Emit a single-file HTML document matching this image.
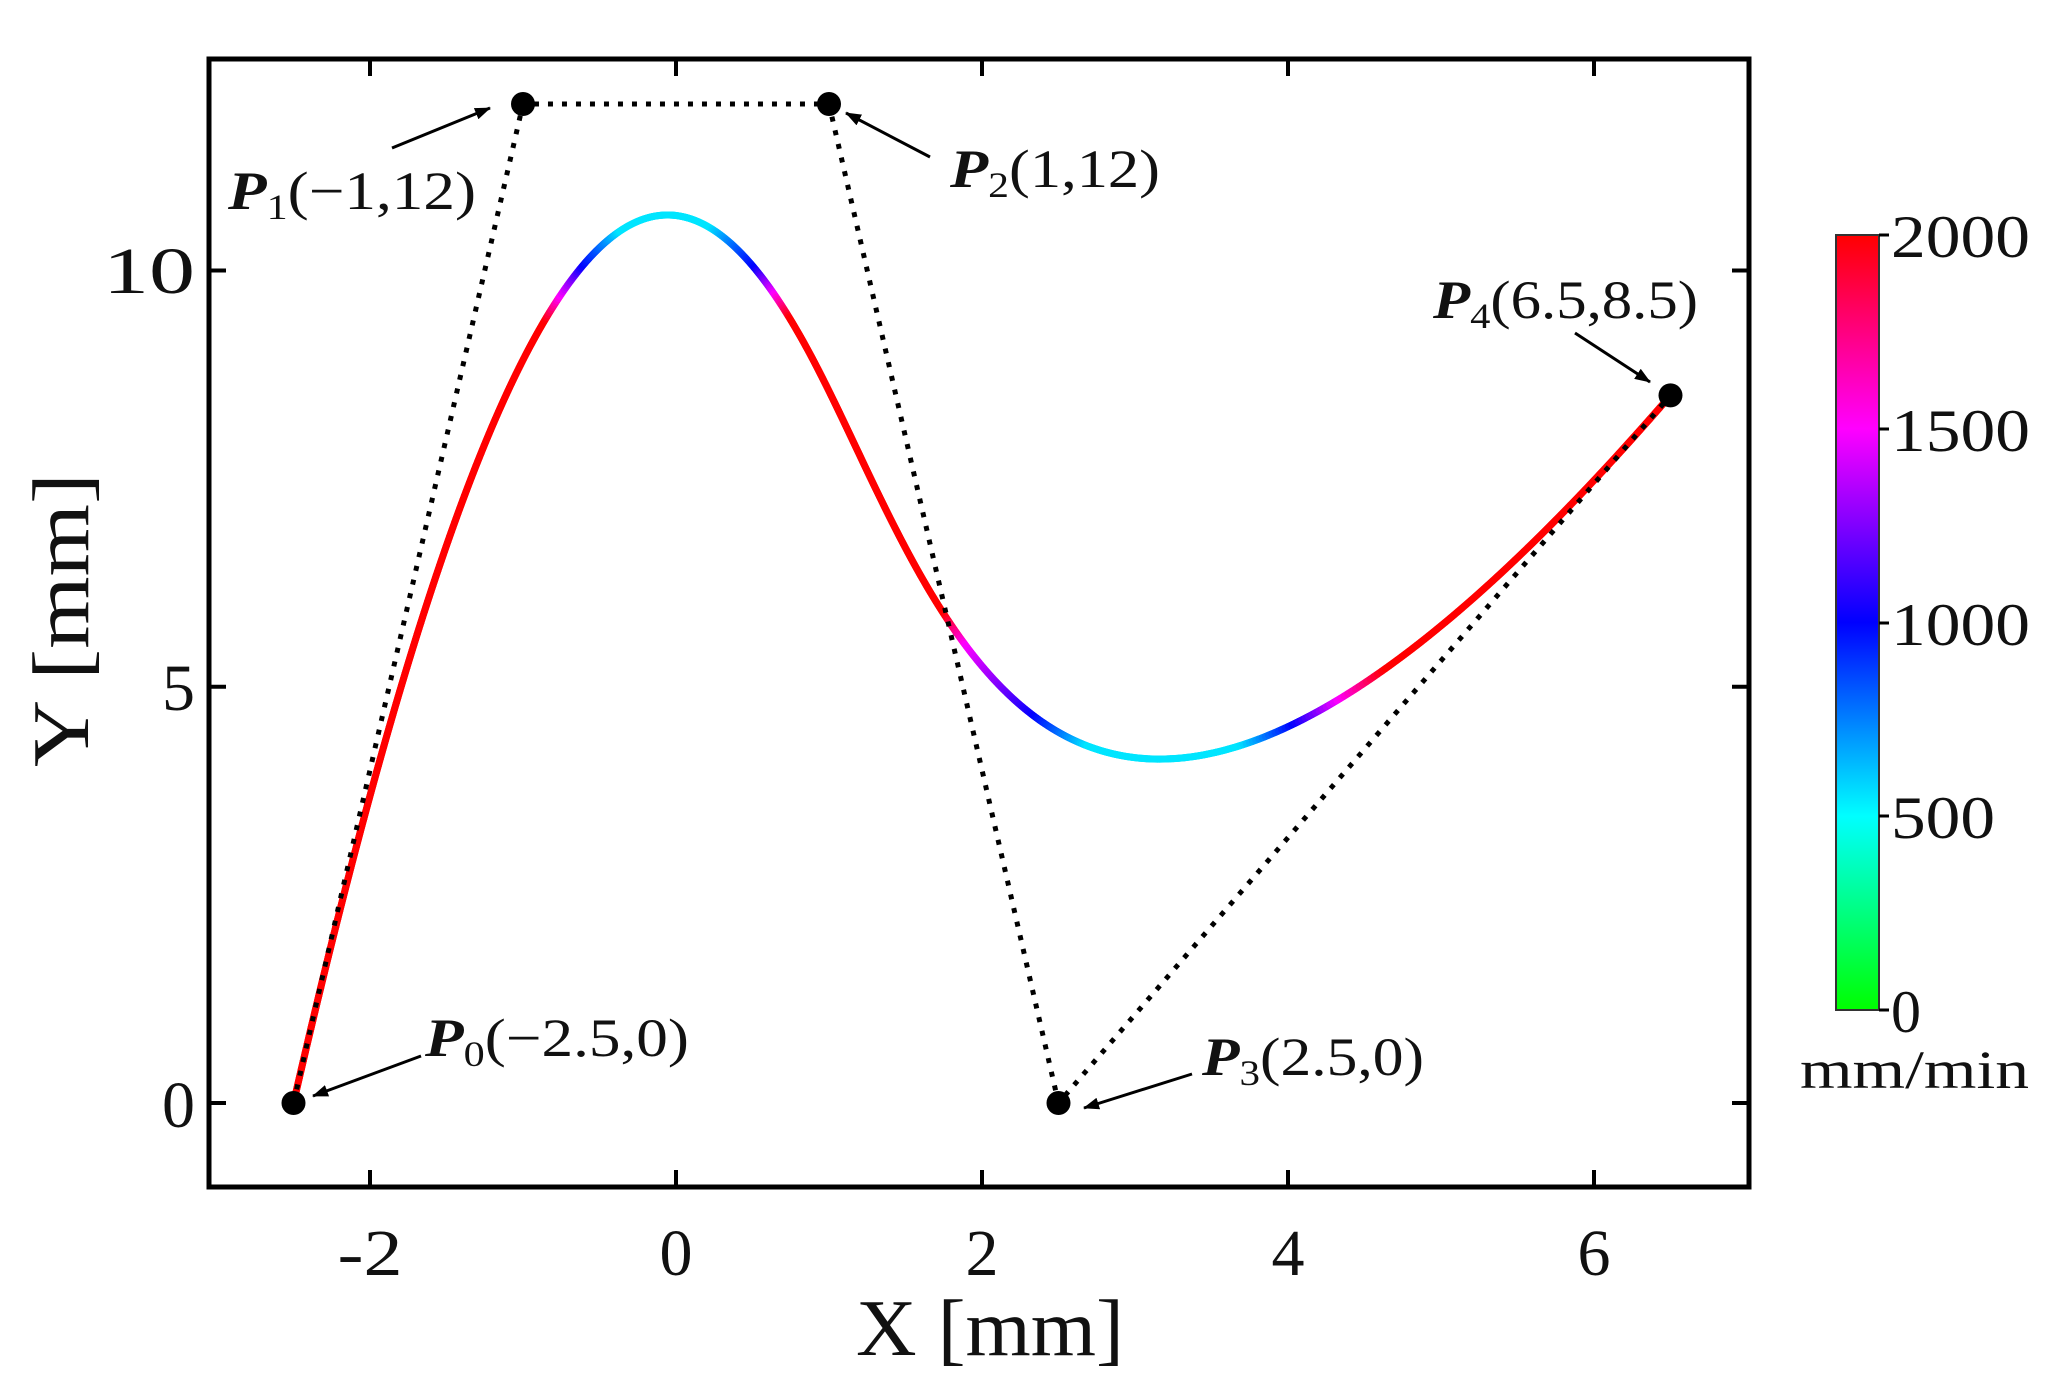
<!DOCTYPE html>
<html><head><meta charset="utf-8"><style>
html,body{margin:0;padding:0;background:#fff;}
svg{display:block;}
text{font-family:"Liberation Serif",serif;fill:#111;}
</style></head><body>
<svg id="s" width="2049" height="1378" viewBox="0 0 2049 1378" xmlns="http://www.w3.org/2000/svg">
<defs>
<linearGradient id="cb" x1="0" y1="1" x2="0" y2="0">
<stop offset="0" stop-color="#00ff00"/><stop offset="0.25" stop-color="#00ffff"/>
<stop offset="0.5" stop-color="#0000ff"/><stop offset="0.75" stop-color="#ff00ff"/>
<stop offset="1" stop-color="#ff0000"/></linearGradient>
<marker id="ar" markerWidth="16" markerHeight="12" refX="15" refY="6" orient="auto" markerUnits="userSpaceOnUse" viewBox="0 0 16 12"><path d="M0,0 L16,6 L0,12 z" fill="#000"/></marker>
</defs>
<g id="curve"></g>
<g id="ctrl"></g>
<rect x="209" y="59" width="1540" height="1128" fill="none" stroke="#000" stroke-width="5"/>
<g id="ticks" stroke="#000" stroke-width="4"></g>
<g font-size="66" text-anchor="middle">
<text x="370" y="1275" textLength="65" lengthAdjust="spacingAndGlyphs">-2</text><text x="676" y="1275">0</text><text x="982" y="1275">2</text><text x="1288" y="1275">4</text><text x="1594" y="1275">6</text>
</g>
<g font-size="66" text-anchor="end">
<text x="195" y="1127">0</text><text x="195" y="710">5</text><text x="195" y="293" textLength="92" lengthAdjust="spacingAndGlyphs">10</text>
</g>
<text x="856" y="1355" font-size="80" textLength="268" lengthAdjust="spacingAndGlyphs">X [mm]</text>
<text transform="translate(88,620) rotate(-90)" font-size="80" text-anchor="middle" textLength="294" lengthAdjust="spacingAndGlyphs">Y [mm]</text>
<rect x="1836" y="235" width="43" height="775" fill="url(#cb)" stroke="#333" stroke-width="2"/>
<g stroke="#000" stroke-width="3">
<line x1="1879" y1="235" x2="1889" y2="235"/><line x1="1879" y1="429" x2="1889" y2="429"/><line x1="1879" y1="623" x2="1889" y2="623"/><line x1="1879" y1="816" x2="1889" y2="816"/><line x1="1879" y1="1010" x2="1889" y2="1010"/></g>
<g font-size="60">
<text x="1891" y="257" textLength="139" lengthAdjust="spacingAndGlyphs">2000</text><text x="1891" y="451" textLength="139" lengthAdjust="spacingAndGlyphs">1500</text><text x="1891" y="645" textLength="139" lengthAdjust="spacingAndGlyphs">1000</text><text x="1891" y="838" textLength="104" lengthAdjust="spacingAndGlyphs">500</text><text x="1891" y="1032">0</text>
</g>
<text x="1800" y="1088" font-size="54" textLength="229" lengthAdjust="spacingAndGlyphs">mm/min</text>
<g font-size="54">
<text x="228" y="209" textLength="248" lengthAdjust="spacingAndGlyphs"><tspan font-weight="bold" font-style="italic">P</tspan><tspan font-size="36" dy="10">1</tspan><tspan dy="-10">(−1,12)</tspan></text>
<text x="950" y="187" textLength="210" lengthAdjust="spacingAndGlyphs"><tspan font-weight="bold" font-style="italic">P</tspan><tspan font-size="36" dy="10">2</tspan><tspan dy="-10">(1,12)</tspan></text>
<text x="1433" y="318" textLength="265" lengthAdjust="spacingAndGlyphs"><tspan font-weight="bold" font-style="italic">P</tspan><tspan font-size="36" dy="10">4</tspan><tspan dy="-10">(6.5,8.5)</tspan></text>
<text x="425" y="1056" textLength="264" lengthAdjust="spacingAndGlyphs"><tspan font-weight="bold" font-style="italic">P</tspan><tspan font-size="36" dy="10">0</tspan><tspan dy="-10">(−2.5,0)</tspan></text>
<text x="1202" y="1075" textLength="222" lengthAdjust="spacingAndGlyphs"><tspan font-weight="bold" font-style="italic">P</tspan><tspan font-size="36" dy="10">3</tspan><tspan dy="-10">(2.5,0)</tspan></text>
</g>
<g stroke="#000" stroke-width="3" marker-end="url(#ar)">
<line x1="392" y1="148" x2="490" y2="108"/>
<line x1="930" y1="157" x2="846" y2="113"/>
<line x1="1575" y1="333" x2="1650" y2="382"/>
<line x1="421" y1="1056" x2="313" y2="1096"/>
<line x1="1192" y1="1074" x2="1084" y2="1108"/>
</g>
</svg>
<script>
var X=function(v){return 676+153*v;},Y=function(v){return 1103-83.25*v;};
var P=[[-2.5,0],[-1,12],[1,12],[2.5,0],[6.5,8.5]];
var ns="http://www.w3.org/2000/svg";
function el(t,a,p){var e=document.createElementNS(ns,t);for(var k in a)e.setAttribute(k,a[k]);p.appendChild(e);return e;}
var ctrl=document.getElementById('ctrl');
var pts=P.map(function(p){return X(p[0])+','+Y(p[1]);}).join(' ');
el('polyline',{points:pts,fill:'none',stroke:'#000','stroke-width':5,'stroke-dasharray':'5 9'},ctrl);
P.forEach(function(p){el('circle',{cx:X(p[0]),cy:Y(p[1]),r:12,fill:'#000'},ctrl);});
var kn=[0,0,0,0,0.5,1,1,1,1];
function N(i,k,t){if(k==0){return (t>=kn[i]&&t<kn[i+1])?1:0;}
var a=0,b=0;if(kn[i+k]-kn[i]>0)a=(t-kn[i])/(kn[i+k]-kn[i])*N(i,k-1,t);
if(kn[i+k+1]-kn[i+1]>0)b=(kn[i+k+1]-t)/(kn[i+k+1]-kn[i+1])*N(i+1,k-1,t);return a+b;}
function B(t){var x=0,y=0;for(var i=0;i<5;i++){var n=N(i,3,t);x+=n*P[i][0];y+=n*P[i][1];}return[x,y];}
var M=700,S=[];for(var j=0;j<=M;j++)S.push(B(Math.min(j/M,0.99999)));
function col(v){v=Math.max(0,Math.min(2000,v))/500;var r,g,b;
if(v<1){r=0;g=255;b=255*v;}else if(v<2){r=0;g=255*(2-v);b=255;}else if(v<3){r=255*(v-2);g=0;b=255;}else{r=255;g=0;b=255*(4-v);}
return 'rgb('+Math.round(r)+','+Math.round(g)+','+Math.round(b)+')';}
var KF=[[-3,2000],[-0.85,2000],[-0.75,1500],[-0.6,1000],[-0.36,550],[0.23,550],[0.52,1000],[0.65,1500],[0.75,2000],
[1.76,2000],[1.9,1500],[2.35,1000],[2.7,550],[3.7,550],[4.05,1000],[4.35,1500],[4.65,2000],[7,2000]];
function sp(x){for(var i=1;i<KF.length;i++){if(x<=KF[i][0]){var a=KF[i-1],b=KF[i];return a[1]+(b[1]-a[1])*(x-a[0])/(b[0]-a[0]);}}return 2000;}
var cg=document.getElementById('curve');
for(var j=1;j<M;j++){
var a=S[j-1],c=S[j+1],b=S[j];
var v=sp(b[0]);
// peak region only applies when y high; trough region when y low
el('line',{x1:X(a[0]),y1:Y(a[1]),x2:X(c[0]),y2:Y(c[1]),stroke:col(v),'stroke-width':7,'stroke-linecap':'round'},cg);}
var tg=document.getElementById('ticks');
[-2,0,2,4,6].forEach(function(v){var x=X(v);el('line',{x1:x,y1:1187,x2:x,y2:1170},tg);el('line',{x1:x,y1:59,x2:x,y2:76},tg);});
[0,5,10].forEach(function(v){var y=Y(v);el('line',{x1:209,y1:y,x2:226,y2:y},tg);el('line',{x1:1749,y1:y,x2:1732,y2:y},tg);});
</script>
</body></html>
